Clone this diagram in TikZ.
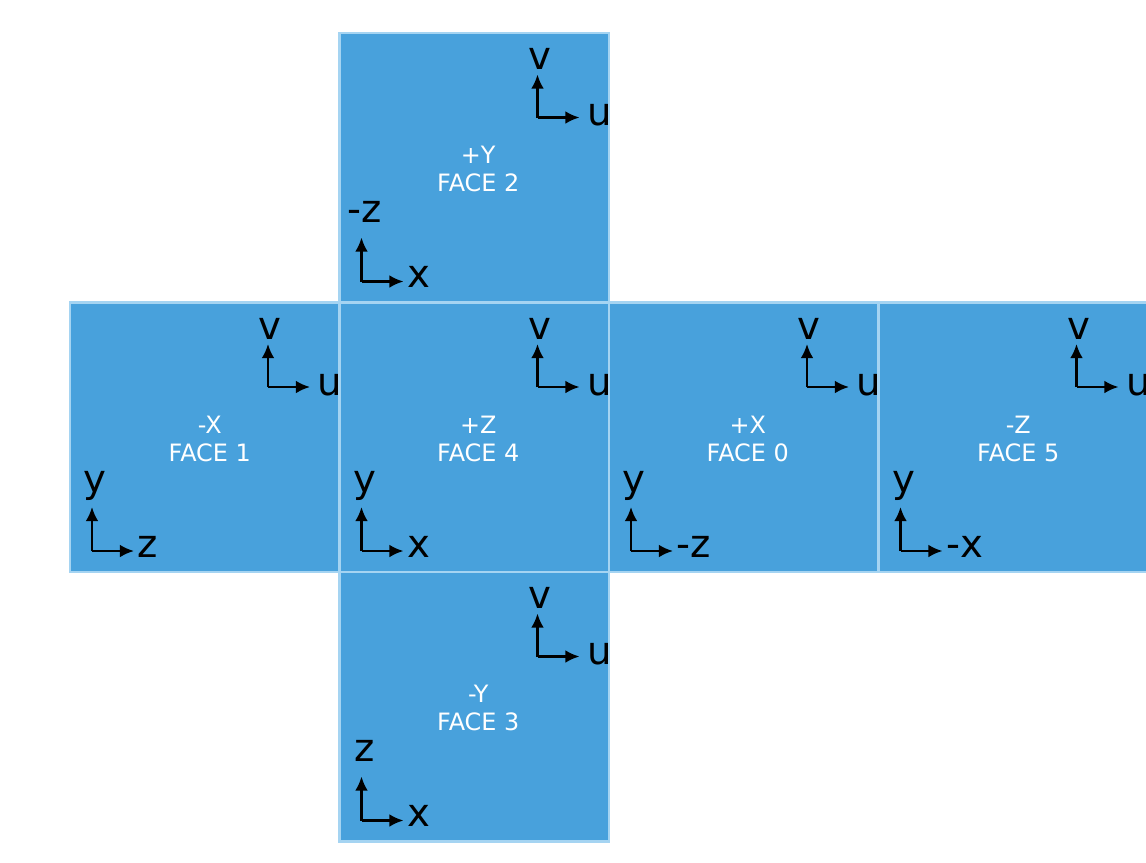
\documentclass[tikz,border=0pt]{standalone}
\usepackage{fontspec}
\setmainfont{DejaVu Sans}
\usepackage{tikz}
\usetikzlibrary{positioning}
\usetikzlibrary{arrows.meta}
\definecolor{facefill}{RGB}{72,161,220}
\definecolor{faceedge}{RGB}{165,212,242}

\begin{document}
\begin{tikzpicture}[
  face/.style={draw=faceedge,line width=0.6pt,fill=facefill,minimum size=2.695cm,inner sep=0pt,outer sep=0pt},
  facetext/.style={text=white,align=center,inner sep=0pt,font=\fontsize{6.8}{8}\selectfont},
  axis/.style={line width=0.65pt,-{Latex[length=4pt,width=3.6pt]}},
  axlabel/.style={inner sep=0pt,font=\fontsize{11}{12}\selectfont}]
  \useasboundingbox (0,0) rectangle (11.46,8.62);
  \clip (0,0) rectangle (11.46,8.62);

  % the unfolded cube
  \node[face] (face1) at (2.0475,4.2475) {};
  \node[face,right=0pt of face1] (face4) {};
  \node[face,right=0pt of face4] (face0) {};
  \node[face,right=0pt of face0] (face5) {};
  \node[face,above=0pt of face4] (face2) {};
  \node[face,below=0pt of face4] (face3) {};

  \node[facetext] (text0) at ([shift={(0.04,-0.015)}]face0.center) {+X\\FACE 0};
  \node[facetext] (text1) at ([shift={(0.05,-0.015)}]face1.center) {-X\\FACE 1};
  \node[facetext] (text2) at ([shift={(0.04,-0.015)}]face2.center) {+Y\\FACE 2};
  \node[facetext] (text3) at ([shift={(0.04,-0.015)}]face3.center) {-Y\\FACE 3};
  \node[facetext] (text4) at ([shift={(0.04,-0.015)}]face4.center) {+Z\\FACE 4};
  \node[facetext] (text5) at ([shift={(0.05,-0.015)}]face5.center) {-Z\\FACE 5};

  % axes of each face
  \foreach \f/\h/\v in {face0/-z/y, face1/z/y, face2/x/-z, face3/x/z, face4/x/y, face5/-x/y}{
    \begin{scope}[shift={(\f.south west)}]
      \coordinate (\f-uv) at (1.98,1.85);
      \coordinate (\f-v) at (1.98,2.28);
      \coordinate (\f-u) at (2.40,1.85);
      \coordinate (\f-o) at (0.22,0.21);
      \coordinate (\f-y) at (0.22,0.65);
      \coordinate (\f-x) at (0.64,0.21);
    \end{scope}
    \draw[axis] (\f-uv) -- (\f-v);
    \draw[axis] (\f-uv) -- (\f-u);
    \draw[axis] (\f-o) -- (\f-y);
    \draw[axis] (\f-o) -- (\f-x);
    \node[axlabel,anchor=base] (\f-vl) at ([shift={(0.02,0.05)}]\f-v) {v};
    \node[axlabel,anchor=base west] (\f-ul) at ([shift={(0.07,-0.08)}]\f-u) {u};
    \node[axlabel,anchor=base] (\f-yl) at ([shift={(0.03,0.15)}]\f-y) {\v};
    \node[axlabel,anchor=base west] (\f-xl) at ([shift={(0.03,-0.06)}]\f-x) {\h};
  }
\end{tikzpicture}
\end{document}
